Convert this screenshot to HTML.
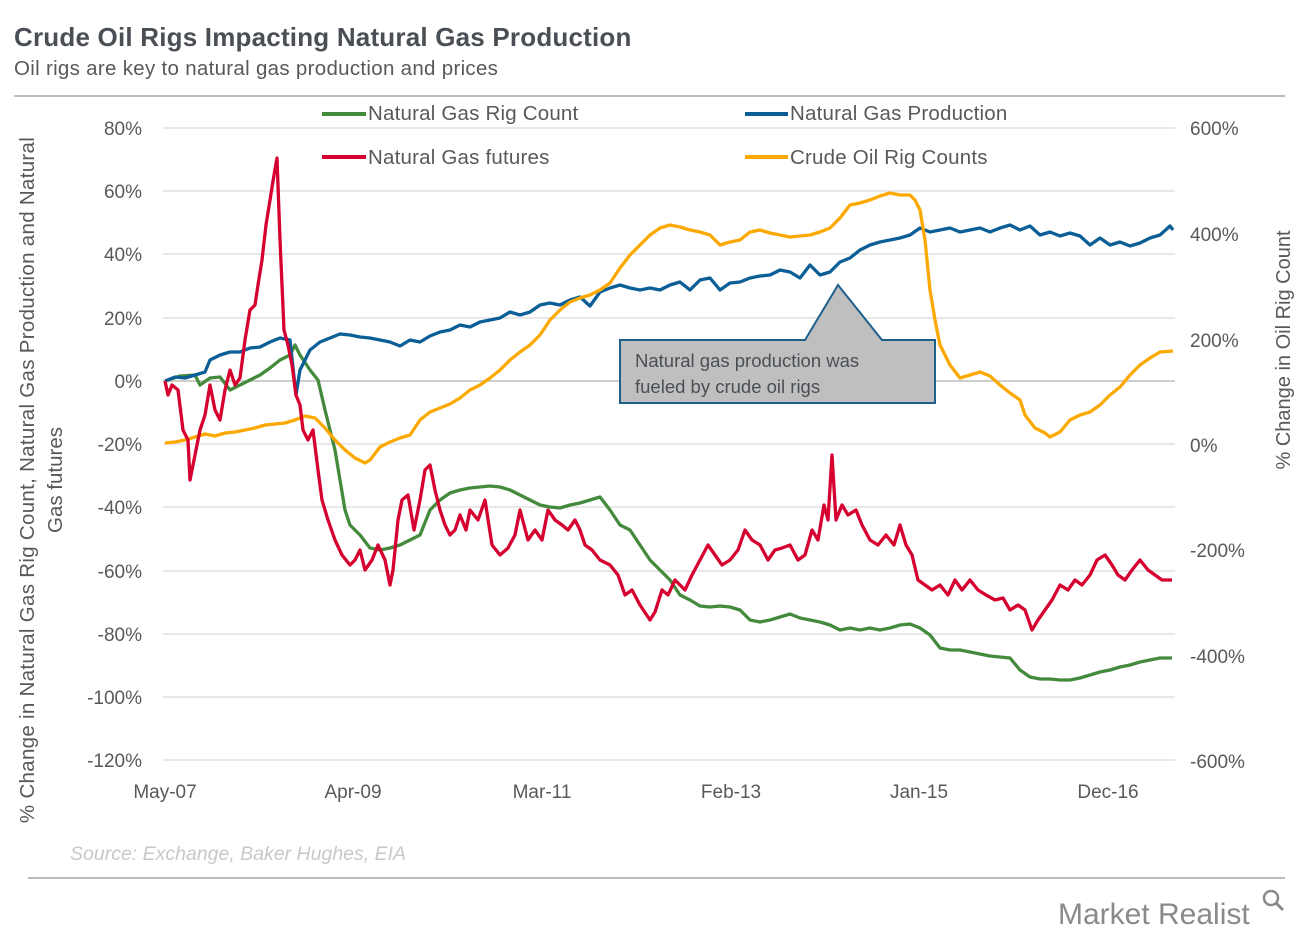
<!DOCTYPE html>
<html><head><meta charset="utf-8"><style>
body{margin:0;background:#fff;width:1312px;height:938px;overflow:hidden;font-family:"Liberation Sans",sans-serif;}
</style></head><body>
<svg width="1312" height="938" xmlns="http://www.w3.org/2000/svg" font-family="Liberation Sans, sans-serif">
<text x="14" y="46" font-size="26" font-weight="bold" fill="#4a4f55" letter-spacing="0.2">Crude Oil Rigs Impacting Natural Gas Production</text>
<text x="14" y="75" font-size="20.5" fill="#595959" letter-spacing="0.3">Oil rigs are key to natural gas production and prices</text>
<line x1="14" y1="96" x2="1285" y2="96" stroke="#bbb" stroke-width="2"/>
<g stroke="#e0e0e0" stroke-width="1.5">
<line x1="163" y1="128" x2="1175" y2="128"/><line x1="163" y1="191" x2="1175" y2="191"/>
<line x1="163" y1="254" x2="1175" y2="254"/><line x1="163" y1="318" x2="1175" y2="318"/>
<line x1="163" y1="444" x2="1175" y2="444"/><line x1="163" y1="507" x2="1175" y2="507"/>
<line x1="163" y1="571" x2="1175" y2="571"/><line x1="163" y1="634" x2="1175" y2="634"/>
<line x1="163" y1="697" x2="1175" y2="697"/><line x1="163" y1="760" x2="1175" y2="760"/>
</g>
<line x1="163" y1="381" x2="1175" y2="381" stroke="#bdbdbd" stroke-width="1.5"/>
<g font-size="19" fill="#595959" text-anchor="end">
<text x="142" y="135">80%</text><text x="142" y="198">60%</text><text x="142" y="261">40%</text>
<text x="142" y="325">20%</text><text x="142" y="388">0%</text><text x="142" y="451">-20%</text>
<text x="142" y="514">-40%</text><text x="142" y="578">-60%</text><text x="142" y="641">-80%</text>
<text x="142" y="704">-100%</text><text x="142" y="767">-120%</text>
</g>
<g font-size="19" fill="#595959">
<text x="1190" y="135">600%</text><text x="1190" y="241">400%</text><text x="1190" y="347">200%</text>
<text x="1190" y="452">0%</text><text x="1190" y="557">-200%</text><text x="1190" y="663">-400%</text>
<text x="1190" y="768">-600%</text>
</g>
<g font-size="19" fill="#595959" text-anchor="middle">
<text x="165" y="798">May-07</text><text x="353" y="798">Apr-09</text><text x="542" y="798">Mar-11</text>
<text x="731" y="798">Feb-13</text><text x="919" y="798">Jan-15</text><text x="1108" y="798">Dec-16</text>
</g>
<text transform="translate(34,480) rotate(-90)" font-size="20.5" fill="#595959" text-anchor="middle" letter-spacing="0.3">% Change in Natural Gas Rig Count, Natural Gas Production and Natural</text>
<text transform="translate(62,480) rotate(-90)" font-size="20.5" fill="#595959" text-anchor="middle">Gas futures</text>
<text transform="translate(1290,350) rotate(-90)" font-size="20" fill="#595959" text-anchor="middle">% Change in Oil Rig Count</text>
<g font-size="20.5" fill="#595959" letter-spacing="0.2">
<line x1="322" y1="114" x2="366" y2="114" stroke="#448a3c" stroke-width="4"/><text x="368" y="120">Natural Gas Rig Count</text>
<line x1="745" y1="114" x2="788" y2="114" stroke="#0b5e96" stroke-width="4"/><text x="790" y="120">Natural Gas Production</text>
<line x1="322" y1="157" x2="366" y2="157" stroke="#d5002f" stroke-width="4"/><text x="368" y="164">Natural Gas futures</text>
<line x1="745" y1="157" x2="788" y2="157" stroke="#fba900" stroke-width="4"/><text x="790" y="164">Crude Oil Rig Counts</text>
</g>
<g fill="none" stroke-width="3.3" stroke-linejoin="round">
<polyline stroke="#448a3c" points="165,381 180,376 195,375 200,385 210,378 220,377 230,390 240,385 250,380 260,375 270,368 280,360 290,355 295,345 300,355 310,370 318,380 325,410 335,450 340,480 345,510 350,525 360,535 370,548 380,550 390,548 400,545 410,540 420,535 430,510 440,500 450,493 460,490 470,488 480,487 490,486 500,487 510,490 520,495 530,500 540,505 550,507 560,508 570,505 580,503 590,500 600,497 610,510 620,525 630,530 640,545 650,560 660,570 670,580 680,595 690,600 700,606 710,607 720,606 730,607 740,610 750,620 760,622 770,620 780,617 790,614 800,618 810,620 820,622 830,625 840,630 850,628 860,630 870,628 880,630 890,628 900,625 910,624 920,628 930,635 940,648 950,650 960,650 970,652 980,654 990,656 1000,657 1010,658 1020,670 1030,677 1040,679 1050,679 1060,680 1070,680 1080,678 1090,675 1100,672 1110,670 1120,667 1130,665 1140,662 1150,660 1160,658 1172,658"/>
<polyline stroke="#0b5e96" points="165,381 175,377 185,378 195,375 205,372 210,360 220,355 230,352 240,352 250,348 260,347 270,342 280,338 290,340 296,395 300,370 310,350 320,342 330,338 340,334 350,335 360,337 370,338 380,340 390,342 400,346 410,340 420,342 430,336 440,332 450,330 460,325 470,327 480,322 490,320 500,318 510,312 520,315 530,312 540,305 550,303 560,305 570,300 580,297 590,306 600,292 610,288 620,285 630,288 640,290 650,288 660,290 670,285 680,282 690,290 700,280 710,278 720,290 730,283 740,282 750,278 760,276 770,275 780,270 790,272 800,278 810,265 820,275 830,272 840,262 850,258 860,250 870,245 880,242 890,240 900,238 910,235 920,228 930,232 940,230 950,228 960,232 970,230 980,228 990,232 1000,228 1010,225 1020,230 1030,226 1040,235 1050,232 1060,236 1070,233 1080,236 1090,245 1100,238 1110,245 1120,242 1130,246 1140,243 1150,238 1160,235 1170,226 1173,230"/>
<polyline stroke="#fba900" points="165,443 175,442 185,440 195,437 205,434 215,436 225,433 235,432 245,430 255,428 265,425 275,424 285,423 295,420 305,416 315,418 325,428 335,440 345,450 355,458 365,463 370,460 380,447 390,442 400,438 410,435 420,420 430,412 440,408 450,404 460,398 470,390 480,385 490,378 500,370 510,360 520,352 530,345 540,335 550,320 560,310 570,302 580,298 590,295 600,290 610,283 620,268 630,255 640,245 650,235 660,228 670,225 680,227 690,230 700,232 710,235 720,245 730,242 740,240 750,232 760,230 770,233 780,235 790,237 800,236 810,235 820,232 830,228 840,218 850,205 860,203 870,200 880,196 890,193 900,195 910,195 915,200 920,210 925,240 930,290 935,320 940,345 950,365 960,378 970,375 980,372 990,376 1000,385 1010,393 1020,400 1025,415 1035,428 1045,433 1050,437 1060,432 1070,420 1080,415 1090,412 1100,405 1110,395 1120,387 1130,375 1140,365 1150,358 1160,352 1173,351"/>
<polyline stroke="#d5002f" points="165,381 168,395 172,385 178,390 183,430 188,440 190,480 195,455 200,430 205,415 210,385 215,410 220,420 225,390 230,370 235,385 240,378 245,340 250,310 255,305 258,285 262,260 266,225 270,200 274,175 277,158 280,240 284,330 288,345 292,365 296,395 300,405 303,430 308,440 313,430 318,470 322,500 328,520 335,540 342,555 350,565 355,560 360,550 365,570 372,560 378,545 385,560 390,585 393,570 398,520 402,500 408,495 414,530 420,500 425,470 430,465 435,490 440,510 445,525 450,535 455,530 460,515 466,530 470,510 478,520 485,500 492,545 500,555 508,548 515,535 520,510 528,540 535,530 542,540 548,510 555,520 562,525 568,530 575,520 580,530 585,545 592,550 600,560 610,565 618,575 625,595 632,590 640,605 650,620 655,612 662,590 668,595 675,580 685,590 692,575 700,560 708,545 715,555 722,565 730,560 738,550 745,530 752,540 760,545 768,560 775,550 782,548 790,545 798,560 805,555 812,530 818,540 824,505 828,520 832,455 836,520 842,505 848,515 856,510 862,525 870,540 878,545 886,535 894,545 900,525 906,545 912,555 918,580 925,585 932,590 940,585 948,595 955,580 962,590 970,580 978,590 986,595 995,600 1003,598 1010,610 1018,605 1025,610 1032,630 1038,620 1045,610 1052,600 1060,585 1068,590 1075,580 1082,585 1090,575 1097,560 1105,555 1112,565 1118,575 1125,580 1132,570 1140,560 1148,570 1155,575 1162,580 1172,580"/>
</g>
<path d="M620,340 L805,340 L838,285 L882,340 L935,340 L935,403 L620,403 Z" fill="#bfbfbf" stroke="#1f5f8b" stroke-width="2"/>
<text x="635" y="367" font-size="18.5" fill="#4a4f55">Natural gas production was</text>
<text x="635" y="393" font-size="18.5" fill="#4a4f55">fueled by crude oil rigs</text>
<text x="70" y="860" font-size="19.5" font-style="italic" fill="#c8c8c8">Source: Exchange, Baker Hughes, EIA</text>
<line x1="28" y1="878" x2="1285" y2="878" stroke="#bbb" stroke-width="2"/>
<text x="1058" y="924" font-size="30" fill="#8a8a8a">Market Realist</text>
<circle cx="1271" cy="898" r="7" fill="none" stroke="#8a8a8a" stroke-width="2.5"/>
<line x1="1276" y1="903" x2="1283" y2="910" stroke="#8a8a8a" stroke-width="3"/>
</svg>
</body></html>
